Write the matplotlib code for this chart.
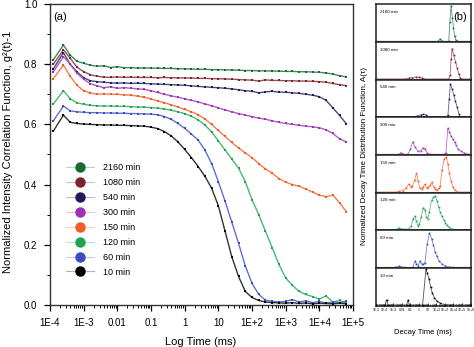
# ============================
# Import Libraries
# ============================

import numpy as np
import matplotlib
matplotlib.use("Agg")
import matplotlib.pyplot as plt
from matplotlib.lines import Line2D
from matplotlib.ticker import LogLocator, FixedLocator, NullLocator, MultipleLocator

plt.rcParams["font.family"] = ["Liberation Sans", "DejaVu Sans"]

# ============================
# Data - panel (a): correlation functions
# ============================

labels = ["2160 min", "1080 min", "540 min", "300 min", "150 min", "120 min", "60 min", "10 min"]
colors = ["#156b33", "#7a2328", "#1d1d5c", "#9a32b2", "#f25a26", "#1fa552", "#3a4cc2", "#000000"]

# log10 of lag time (ms)
log_t = [-3.9, -3.6, -3.4, -3.2, -3.0, -2.8, -2.6, -2.4, -2.2, -2.0,
         -1.8, -1.6, -1.4, -1.2, -1.0, -0.8, -0.6, -0.4, -0.2, 0.0,
         0.2, 0.4, 0.6, 0.8, 1.0, 1.2, 1.4, 1.6, 1.8, 2.0,
         2.2, 2.4, 2.6, 2.8, 3.0, 3.2, 3.4, 3.6, 3.8, 4.0,
         4.2, 4.4, 4.6, 4.8]

g_2160 = [0.815, 0.864, 0.830, 0.810, 0.803, 0.797, 0.793, 0.795, 0.789, 0.792,
          0.788, 0.789, 0.787, 0.788, 0.787, 0.787, 0.786, 0.786, 0.785, 0.785,
          0.784, 0.783, 0.783, 0.782, 0.782, 0.781, 0.781, 0.780, 0.779, 0.779,
          0.778, 0.778, 0.777, 0.777, 0.776, 0.776, 0.775, 0.775, 0.774, 0.773,
          0.771, 0.767, 0.762, 0.758]
g_1080 = [0.800, 0.848, 0.820, 0.790, 0.775, 0.765, 0.760, 0.757, 0.756, 0.758,
          0.756, 0.757, 0.756, 0.756, 0.756, 0.755, 0.756, 0.755, 0.755, 0.754,
          0.754, 0.753, 0.753, 0.752, 0.752, 0.751, 0.750, 0.749, 0.748, 0.747,
          0.744, 0.748, 0.746, 0.746, 0.745, 0.745, 0.744, 0.744, 0.743, 0.742,
          0.740, 0.736, 0.732, 0.729]
g_540 = [0.785, 0.838, 0.800, 0.775, 0.755, 0.745, 0.742, 0.740, 0.738, 0.737,
         0.738, 0.736, 0.737, 0.736, 0.735, 0.734, 0.733, 0.732, 0.731, 0.730,
         0.728, 0.726, 0.725, 0.723, 0.722, 0.720, 0.718, 0.715, 0.712, 0.710,
         0.705, 0.708, 0.710, 0.707, 0.707, 0.705, 0.703, 0.700, 0.697, 0.692,
         0.680, 0.655, 0.630, 0.602]
g_300 = [0.775, 0.825, 0.800, 0.770, 0.750, 0.735, 0.728, 0.722, 0.725, 0.720,
         0.722, 0.720, 0.718, 0.716, 0.712, 0.706, 0.700, 0.695, 0.690, 0.685,
         0.680, 0.675, 0.668, 0.662, 0.655, 0.648, 0.642, 0.636, 0.631, 0.626,
         0.621, 0.617, 0.612, 0.607, 0.603, 0.600, 0.597, 0.594, 0.592, 0.589,
         0.582, 0.570, 0.552, 0.542]
g_150 = [0.752, 0.797, 0.760, 0.730, 0.712, 0.705, 0.700, 0.702, 0.700, 0.700,
         0.698, 0.697, 0.694, 0.690, 0.685, 0.678, 0.672, 0.665, 0.658, 0.650,
         0.642, 0.632, 0.618, 0.600, 0.580, 0.560, 0.540, 0.522, 0.505, 0.490,
         0.470, 0.452, 0.438, 0.420, 0.408, 0.400, 0.395, 0.385, 0.375, 0.365,
         0.360, 0.365, 0.340, 0.310]
g_120 = [0.668, 0.712, 0.685, 0.672, 0.667, 0.663, 0.662, 0.661, 0.661, 0.660,
         0.660, 0.659, 0.658, 0.657, 0.656, 0.654, 0.651, 0.647, 0.642, 0.636,
         0.627, 0.615, 0.598, 0.575, 0.545, 0.515, 0.485, 0.455, 0.410, 0.350,
         0.300, 0.245, 0.190, 0.135, 0.090, 0.065, 0.045, 0.035, 0.028, 0.020,
         0.030, 0.010, 0.015, 0.005]
g_60 = [0.612, 0.661, 0.645, 0.642, 0.640, 0.639, 0.639, 0.638, 0.638, 0.637,
        0.637, 0.636, 0.636, 0.635, 0.634, 0.632, 0.626, 0.617, 0.603, 0.587,
        0.568, 0.548, 0.515, 0.470, 0.410, 0.345, 0.275, 0.205, 0.130, 0.072,
        0.035, 0.016, 0.012, 0.010, 0.012, 0.018, 0.010, 0.014, 0.008, 0.012,
        0.006, 0.010, 0.008, 0.012]
g_10 = [0.578, 0.631, 0.607, 0.603, 0.601, 0.600, 0.599, 0.598, 0.598, 0.597,
        0.597, 0.596, 0.595, 0.594, 0.591, 0.586, 0.576, 0.562, 0.542, 0.517,
        0.490, 0.460, 0.428, 0.388, 0.330, 0.245, 0.160, 0.095, 0.045, 0.025,
        0.015, 0.010, 0.008, 0.007, 0.006, 0.008, 0.005, 0.007, 0.004, 0.006,
        0.005, 0.004, 0.006, 0.004]

g_all = [g_2160, g_1080, g_540, g_300, g_150, g_120, g_60, g_10]

xtick_vals = [1e-4, 1e-3, 1e-2, 1e-1, 1, 10, 1e2, 1e3, 1e4, 1e5]
xtick_labels = ["1E-4", "1E-3", "0.01", "0.1", "1", "10", "1E+2", "1E+3", "1E+4", "1E+5"]

# ============================
# Data - panel (b): decay time distributions (log10 tau, A)
# ============================

b_2160_t = [-5.0, 2.2, 2.45, 2.7, 3.45, 3.58, 3.72, 3.88, 4.0, 4.12, 4.28, 4.45, 6.0]
b_2160_a = [0, 0, 0.06, 0, 0, 0.55, 1.0, 0.66, 0.38, 0.16, 0.03, 0, 0]

b_1080_t = [-5.0, -1.6, -1.2, -0.8, -0.4, 0.0, 0.3, 0.6, 3.45, 3.6, 3.72, 3.84,
            4.03, 4.23, 4.43, 4.62, 4.75, 4.9, 6.0]
b_1080_a = [0, 0, 0.02, 0.04, 0.05, 0.05, 0.03, 0, 0, 0.1, 0.55, 0.85,
            0.66, 0.49, 0.31, 0.13, 0.04, 0, 0]

b_540_t = [-5.0, -0.6, -0.2, 0.2, 0.5, 0.8, 1.1, 3.2, 3.36, 3.5, 3.64, 3.84,
           4.03, 4.23, 4.43, 4.62, 4.8, 6.0]
b_540_a = [0, 0, 0.02, 0.05, 0.06, 0.05, 0, 0, 0.05, 0.5, 0.92, 0.79,
           0.61, 0.43, 0.26, 0.08, 0, 0]

b_300_t = [-5.0, -2.3, -2.1, -1.9, -1.3, -1.0, -0.74, -0.45, -0.1, 0.2, 0.45, 0.68,
           0.95, 1.3, 2.9, 3.13, 3.33, 3.52, 3.72, 3.92, 4.12, 4.31, 4.5, 4.82,
           5.22, 5.6, 6.0]
b_300_a = [0, 0, 0.05, 0, 0, 0.15, 0.35, 0.2, 0.08, 0.1, 0.18, 0.15,
           0.03, 0, 0, 0.05, 0.73, 0.64, 0.51, 0.42, 0.34, 0.25, 0.16, 0.09,
           0.04, 0.01, 0]

b_150_t = [-5.0, -2.6, -2.3, -1.88, -1.5, -1.21, -0.95, -0.78, -0.5, -0.3,
           -0.1, 0.1, 0.29, 0.5, 0.68, 0.9, 1.08, 1.3, 1.47, 1.7,
           1.86, 2.1, 2.3, 2.46, 2.66, 2.93, 3.17, 3.33, 3.52, 3.72,
           3.96, 4.2, 4.45, 6.0]
b_150_a = [0, 0, 0.02, 0.04, 0.12, 0.22, 0.14, 0.16, 0.35, 0.52,
           0.3, 0.1, 0.09, 0.15, 0.22, 0.12, 0.13, 0.2, 0.27, 0.15,
           0.09, 0.06, 0.1, 0.18, 0.62, 0.93, 0.98, 0.8, 0.54, 0.31,
           0.13, 0.05, 0, 0]

b_120_t = [-5.0, -2.8, -2.3, -1.8, -1.2, -0.9, -0.7, -0.5, -0.3, -0.1,
           0.05, 0.25, 0.48, 0.68, 0.85, 1.0, 1.2, 1.45, 1.67, 1.9,
           2.1, 2.26, 2.45, 2.65, 2.85, 3.05, 3.25, 3.44, 3.7, 4.0,
           4.3, 6.0]
b_120_a = [0, 0, 0.05, 0.01, 0.02, 0.1, 0.3, 0.38, 0.25, 0.1,
           0.16, 0.35, 0.62, 0.56, 0.35, 0.3, 0.5, 0.82, 0.91, 0.95,
           0.8, 0.64, 0.5, 0.38, 0.28, 0.2, 0.12, 0.07, 0.03, 0.01,
           0, 0]

b_60_t = [-5.0, -2.8, -2.3, -1.8, -0.7, -0.5, -0.3, -0.1, 0.09, 0.3,
          0.5, 0.68, 0.95, 1.2, 1.47, 1.67, 1.86, 2.07, 2.34, 2.66,
          3.05, 3.5, 3.9, 6.0]
b_60_a = [0, 0, 0.04, 0, 0, 0.18, 0.1, 0.05, 0.17, 0.1,
          0.08, 0.13, 0.66, 0.97, 0.8, 0.62, 0.44, 0.31, 0.18, 0.09,
          0.04, 0.01, 0, 0]

b_10_t = [-5.0, -3.95, -3.78, -3.6, -1.45, -1.29, -1.1, 0.41, 0.8, 0.96,
          1.15, 1.35, 1.55, 1.79, 2.07, 2.46, 3.05, 3.6, 6.0]
b_10_a = [0, 0, 0.15, 0, 0, 0.13, 0, 0, 1.0, 0.9,
          0.73, 0.5, 0.33, 0.2, 0.11, 0.05, 0.01, 0, 0]

b_t_all = [b_2160_t, b_1080_t, b_540_t, b_300_t, b_150_t, b_120_t, b_60_t, b_10_t]
b_a_all = [b_2160_a, b_1080_a, b_540_a, b_300_a, b_150_a, b_120_a, b_60_a, b_10_a]

btick_vals = [1e-5, 1e-4, 1e-3, 1e-2, 1e-1, 1, 10, 1e2, 1e3, 1e4, 1e5, 1e6]
btick_labels = ["1E-5", "1E-4", "1E-3", "0.01", "0.1", "1", "10",
                "1E+2", "1E+3", "1E+4", "1E+5", "1E+6"]


def lighten(c, f=0.55):
    r, g, b = matplotlib.colors.to_rgb(c)
    return (r + (1 - r) * f, g + (1 - g) * f, b + (1 - b) * f)


# ============================
# Figure
# ============================

W, H = 474, 347
fig = plt.figure(figsize=(W / 100, H / 100), dpi=100)

# ============================
# Panel (a)
# ============================

ax = fig.add_axes([50 / W, 42 / H, 303 / W, 301 / H])
t = 10 ** np.array(log_t)

for g, c in zip(g_all, colors):
    ax.plot(t, g, "-", color=lighten(c, 0.2), lw=1.0, zorder=2)
    ax.plot(t, g, "s", color=c, ms=1.8, mew=0, zorder=3)

ax.set_xscale("log")
ax.set_xlim(1e-4, 1e5)
ax.set_ylim(0, 1.0)

ax.xaxis.set_major_locator(FixedLocator(xtick_vals))
ax.set_xticklabels(xtick_labels)
ax.xaxis.set_minor_locator(LogLocator(base=10, subs=np.arange(2, 10), numticks=20))
ax.yaxis.set_major_locator(MultipleLocator(0.2))
ax.yaxis.set_minor_locator(MultipleLocator(0.1))
ax.yaxis.set_major_formatter(matplotlib.ticker.FormatStrFormatter("%.1f"))

ax.tick_params(which="both", direction="out", labelsize=7, top=False, right=False)
ax.tick_params(which="major", length=4, width=0.9, pad=5)
ax.tick_params(which="minor", length=2, width=0.7)
for s in ax.spines.values():
    s.set_linewidth(1.0)
    s.set_color("#333333")

fig.text(201 / W, 1 - 342 / H, "Log Time (ms)", ha="center", va="center", fontsize=8)
fig.text(8 / W, 1 - 152 / H, "Normalized Intensity Correlation Function, g\u00b2(t)-1",
         rotation=90, ha="center", va="center", fontsize=8)
ax.text(0.01, 0.975, "(a)", transform=ax.transAxes, ha="left", va="top", fontsize=8)

handles = [Line2D([], [], color=lighten(c, 0.7), lw=0.8, marker="o", ms=6.5,
                  markerfacecolor=c, markeredgecolor=c) for c in colors]
ax.legend(handles, labels, loc="upper left", bbox_to_anchor=(0.053, 0.472),
          frameon=False, fontsize=6.5, handlelength=3.1, handletextpad=1.0,
          labelspacing=0.66, borderpad=0, borderaxespad=0)

# ============================
# Panel (b)
# ============================

bx0, bx1 = 376, 470.7
by0, by1 = 4.3, 305.7
ph = (by1 - by0) / 8

for i in range(8):
    bottom = 1 - (by0 + (i + 1) * ph) / H
    axb = fig.add_axes([bx0 / W, bottom, (bx1 - bx0) / W, ph / H])
    tb = 10 ** np.array(b_t_all[i])
    axb.plot(tb, b_a_all[i], "-", color=lighten(colors[i], 0.3), lw=0.6, zorder=2)
    axb.plot(tb, b_a_all[i], "s", color=colors[i], ms=1.2, mew=0, zorder=3)
    axb.set_xscale("log")
    axb.set_xlim(1e-5, 1e6)
    axb.set_ylim(-0.02, 1.04)
    axb.yaxis.set_major_locator(NullLocator())
    for s in axb.spines.values():
        s.set_linewidth(1.1)
        s.set_color("#222222")
    axb.text(0.045, 0.8, labels[i], transform=axb.transAxes, ha="left", va="center",
             fontsize=3.2)
    if i < 7:
        axb.xaxis.set_major_locator(NullLocator())
        axb.xaxis.set_minor_locator(NullLocator())
    else:
        axb.xaxis.set_major_locator(FixedLocator(btick_vals))
        axb.set_xticklabels(btick_labels)
        axb.xaxis.set_minor_locator(LogLocator(base=10, subs=np.arange(2, 10), numticks=30))
        axb.tick_params(which="both", direction="in", labelsize=2.4, pad=2)
        axb.tick_params(which="major", length=2.5, width=0.6)
        axb.tick_params(which="minor", length=1.2, width=0.4)

fig.text(0.985, 1 - 17 / H, "(b)", ha="right", va="center", fontsize=8)
fig.text(364 / W, 1 - 156 / H, "Normalized Decay Time Distribution Function, A(\u03c4)",
         rotation=90, ha="center", va="center", fontsize=5.8)
fig.text(423 / W, 1 - 333 / H, "Decay Time (ms)", ha="center", va="center", fontsize=5.5)

fig.savefig("out.png", dpi=100)
